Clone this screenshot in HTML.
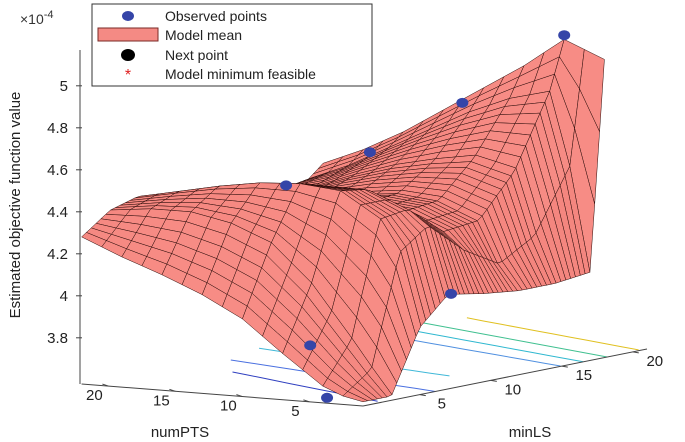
<!DOCTYPE html>
<html><head><meta charset="utf-8">
<style>
body{margin:0;background:#fff;}
svg{display:block;font-family:"Liberation Sans",sans-serif;}
</style></head>
<body>
<svg id="chart" width="685" height="442" viewBox="0 0 685 442" xmlns="http://www.w3.org/2000/svg">
<g id="floor"></g>
<g id="axes"></g>
<g id="surf"></g>
<g id="pts"></g>
<text x="20" y="24" font-size="14" fill="#333">×10<tspan dy="-6" font-size="11">-4</tspan></text>
<text transform="translate(20,205) rotate(-90)" text-anchor="middle" font-size="15" fill="#222">Estimated objective function value</text>
<text x="180" y="437" text-anchor="middle" font-size="15" fill="#222">numPTS</text>
<text x="530" y="437" text-anchor="middle" font-size="15" fill="#222">minLS</text>
<g>
<rect x="92" y="4" width="280" height="82" fill="#fff" stroke="#333" stroke-width="1"/>
<g><ellipse cx="128" cy="16" rx="6" ry="5" fill="#3545a8"/><text x="165" y="21" font-size="14" fill="#222">Observed points</text></g>
<g><rect x="98" y="28" width="60" height="13" fill="#f48a84" stroke="#7a2a26"/><text x="165" y="40" font-size="14" fill="#222">Model mean</text></g>
<g><ellipse cx="128" cy="55" rx="7" ry="6" fill="#000"/><text x="165" y="60" font-size="14" fill="#222">Next point</text></g>
<g><text x="128" y="80" text-anchor="middle" font-size="16" fill="#e02020">*</text><text x="165" y="79" font-size="14" fill="#222">Model minimum feasible</text></g>
</g>
</svg>
<script>
const uNodes=[1,2.5,4,7,10,13,16,19,22];
const vNodes=[1,3,5,7,9.5,12,14.5,17,18];
const zGrid=[
[3.60,3.62,3.66,3.80,3.95,4.05,4.13,4.20,4.28],
[3.60,3.72,3.85,4.10,4.28,4.36,4.40,4.40,4.38],
[3.90,4.25,4.40,4.52,4.54,4.53,4.50,4.46,4.42],
[4.03,4.35,4.42,4.50,4.50,4.47,4.43,4.40,4.37],
[4.00,4.20,4.28,4.36,4.38,4.36,4.34,4.32,4.30],
[3.98,4.10,4.30,4.38,4.40,4.38,4.35,4.30,4.28],
[3.98,4.20,4.50,4.55,4.52,4.48,4.42,4.35,4.31],
[4.00,4.50,4.85,4.80,4.72,4.62,4.52,4.42,4.34],
[5.00,5.04,5.08,4.94,4.82,4.70,4.58,4.48,4.40]];
const zTicks=[3.8,4,4.2,4.4,4.6,4.8,5];
const uTicks=[5,10,15,20];
const vTicks=[5,10,15,20];
const obsU=[22,18.5,11.6,4,6,4,1];
const obsV=[15.4,18,18,18,2,1.3,7.2];
const obsZ=[4.33,4.47,4.74,5.1,3.83,3.6,4.03];
const contourColors=['#e0c020','#40c090','#30b8d0','#5090e0','#40b8d8','#4a70e0','#3040c0'];
const contourU0=[19,20.5,18.8,17.2,22,20.4,17.1];
const contourV0=[25.3,23.3,21.1,18.9,13.5,10,7];
const contourU1=[1.2,1,1,1.1,4.4,1,1.5];
const contourV1=[20.6,18.2,16.5,15,10.3,6.1,2.5];

const NS='http://www.w3.org/2000/svg';
function sx(u,v){return 363-13.4*(u-1)+14.2*(v-1);}
function sby(u,v){return 406-1.05*(u-1)-2.85*(v-1);}
function sy(u,v,z){return sby(u,v)-(z-3.58)*210;}
function idx(arr,x){for(let i=0;i<arr.length-1;i++){if(x<=arr[i+1])return i;}return arr.length-2;}
function zAt(u,v){const i=idx(uNodes,u),j=idx(vNodes,v);
 const t=(u-uNodes[i])/(uNodes[i+1]-uNodes[i]),s=(v-vNodes[j])/(vNodes[j+1]-vNodes[j]);
 return (1-s)*((1-t)*zGrid[j][i]+t*zGrid[j][i+1])+s*((1-t)*zGrid[j+1][i]+t*zGrid[j+1][i+1]);}
function mk(tag,attrs,parent){const e=document.createElementNS(NS,tag);for(const k in attrs)e.setAttribute(k,attrs[k]);parent.appendChild(e);return e;}

// axes
const ax=document.getElementById('axes');
let l=mk('line',{x1:80,y1:50,x2:80,y2:384,stroke:'#444','stroke-width':1},ax);


l=mk('line',{x1:sx(22,1),y1:sby(22,1),x2:sx(1,1),y2:sby(1,1),stroke:'#444','stroke-width':1},ax);


l=mk('line',{x1:sx(1,1),y1:sby(1,1),x2:sx(1,21),y2:sby(1,21),stroke:'#444','stroke-width':1},ax);


zTicks.forEach(z=>{const y=384-(z-3.58)*210;
 mk('line',{x1:76,y1:y,x2:82,y2:y,stroke:'#444'},ax);
 const t=mk('text',{x:68,y:y+5,'text-anchor':'end','font-size':15,fill:'#222'},ax);t.textContent=(z===4||z===5)?String(z):z.toFixed(1);
 
 });
uTicks.forEach(u=>{const x=sx(u,1),y=sby(u,1);
 mk('line',{x1:x,y1:y,x2:x-6,y2:y-2,stroke:'#444'},ax);
 const t=mk('text',{x:x-14,y:y+14,'text-anchor':'middle','font-size':15,fill:'#222'},ax);t.textContent=u;
 
 });
vTicks.forEach(v=>{const x=sx(1,v),y=sby(1,v);
 mk('line',{x1:x,y1:y,x2:x+6,y2:y+1,stroke:'#444'},ax);
 const t=mk('text',{x:x+22,y:y+14,'text-anchor':'middle','font-size':15,fill:'#222'},ax);t.textContent=v;
 
 });

// contours
const fl=document.getElementById('floor');
contourColors.forEach((col,k)=>{let p=[];
 for(let s=0;s<=1.0001;s+=0.1){const u=contourU0[k]+(contourU1[k]-contourU0[k])*s, v=contourV0[k]+(contourV1[k]-contourV0[k])*s;
  p.push(sx(u,v).toFixed(1)+','+sby(u,v).toFixed(1));}
 const pl=mk('polyline',{points:p.join(' '),fill:'none',stroke:col,'stroke-width':1},fl);
 
 });

// surface
const sf=document.getElementById('surf');
const cells=[];
const du=1.5,dv=0.34;
const uMax=22,vMax=18;
function area(c){let a=0;for(let i=0;i<c.length;i++){const p=c[i],q=c[(i+1)%c.length];a+=p[0]*q[1]-q[0]*p[1];}return a;}
const flatSign=Math.sign(area([[sx(1,1),sby(1,1)],[sx(2,1),sby(2,1)],[sx(2,2),sby(2,2)],[sx(1,2),sby(1,2)]]));
for(let u=1;u<uMax-1e-6;u+=du){for(let v=1;v<vMax-1e-6;v+=dv){
 const u2=Math.min(u+du,uMax),v2=Math.min(v+dv,vMax);
 const c=[[u,v],[u2,v],[u2,v2],[u,v2]].map(([a,b])=>[sx(a,b),sy(a,b,zAt(a,b)),zAt(a,b)]);
 cells.push({c,d:sby((u+u2)/2,(v+v2)/2)});}}
cells.sort((a,b)=>a.d-b.d);
cells.forEach(cell=>{const c=cell.c;
 const front=Math.sign(area(c))===flatSign;
 const dzv=(c[3][2]-c[0][2]);
 let fill;
 if(front){const k=Math.max(0,Math.min(1,0.85+dzv*3));fill=`rgb(${Math.round(225+22*k)},${Math.round(95+45*k)},${Math.round(88+45*k)})`;}
 else fill='rgb(205,58,48)';
 const p=mk('polygon',{points:c.map(q=>q[0].toFixed(1)+','+q[1].toFixed(1)).join(' '),fill:fill,stroke:'#2a0a08','stroke-width':0.5},sf);
 
 });

// points
const pg=document.getElementById('pts');
obsU.forEach((u,i)=>{const e=mk('ellipse',{cx:sx(u,obsV[i]),cy:sy(u,obsV[i],obsZ[i]),rx:6,ry:5,fill:'#3545a8'},pg);
 
 });
</script>
</body></html>
